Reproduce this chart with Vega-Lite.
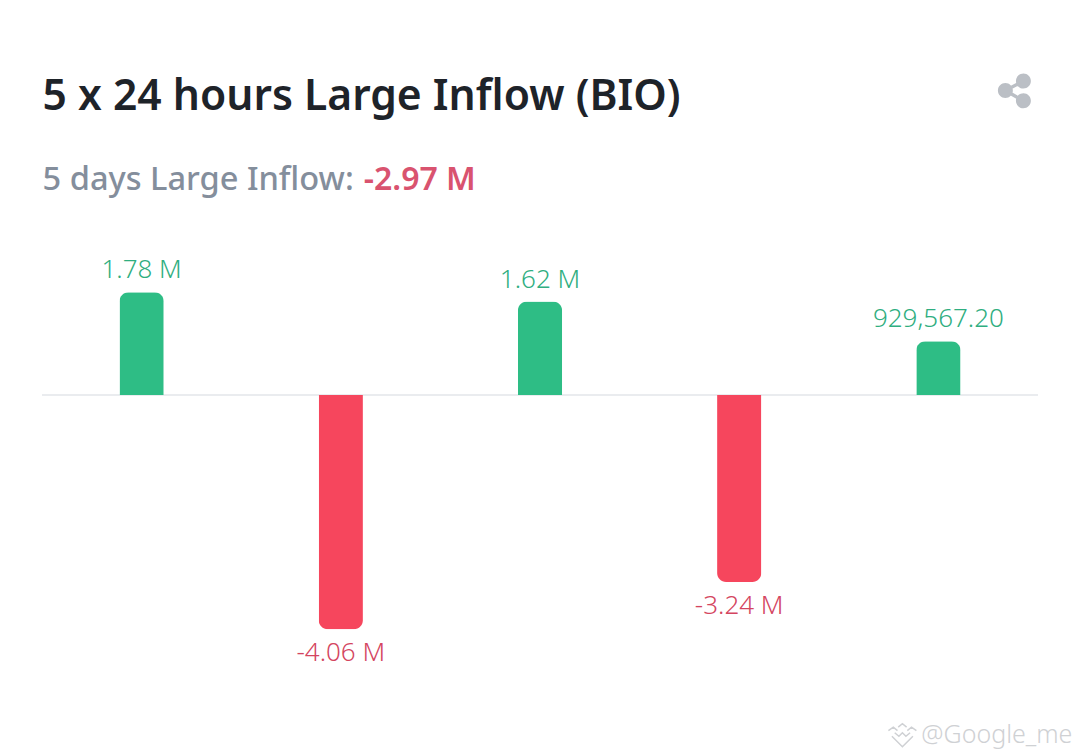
{
  "$schema": "https://vega.github.io/schema/vega-lite/v6.json",
  "width": 996,
  "height": 756,
  "autosize": "none",
  "padding": {"left": 42, "top": 0, "right": 42, "bottom": 0},
  "background": "#ffffff",
  "view": {"stroke": null},
  "datasets": {
    "days": [
      {"day": "Day 1", "inflow": 1.78, "label": "1.78 M"},
      {"day": "Day 2", "inflow": -4.06, "label": "-4.06 M"},
      {"day": "Day 3", "inflow": 1.62, "label": "1.62 M"},
      {"day": "Day 4", "inflow": -3.24, "label": "-3.24 M"},
      {"day": "Day 5", "inflow": 0.9295672, "label": "929,567.20"}
    ],
    "heading": [{"day": "Day 1", "level": 5.17, "label": "5 x 24 hours Large Inflow (BIO)"}],
    "summary": [{"day": "Day 1", "level": 3.73, "label": "5 days Large Inflow:"}],
    "total": [{"day": "Day 2", "level": 3.73, "label": "-2.97 M"}],
    "share": [{"day": "Day 5", "level": 5.27}],
    "credit": [{"day": "Day 5", "level": -5.89, "label": "@Google_me"}]
  },
  "data": {"name": "days"},
  "encoding": {
    "x": {
      "field": "day",
      "type": "nominal",
      "axis": null,
      "scale": {"domain": ["Day 1", "Day 2", "Day 3", "Day 4", "Day 5"], "paddingInner": 0.778, "paddingOuter": 0.389}
    },
    "y": {
      "field": "inflow",
      "type": "quantitative",
      "axis": null,
      "scale": {"domain": [-6.257, 6.846], "nice": false, "zero": false}
    }
  },
  "layer": [
    {
      "mark": {"type": "rule", "color": "#eaecef", "strokeWidth": 2},
      "encoding": {"x": {}, "y": {"datum": 0}}
    },
    {
      "transform": [{"filter": "datum.inflow > 0"}],
      "mark": {"type": "bar", "color": "#2ebd85", "cornerRadiusTopLeft": 9, "cornerRadiusTopRight": 9}
    },
    {
      "transform": [{"filter": "datum.inflow < 0"}],
      "mark": {"type": "bar", "color": "#f6465d", "cornerRadiusBottomLeft": 9, "cornerRadiusBottomRight": 9}
    },
    {
      "transform": [{"filter": "datum.inflow > 0"}],
      "mark": {"type": "text", "font": "Noto Sans", "fontSize": 26, "fontWeight": 300, "color": "#2fae80", "dy": -22},
      "encoding": {"text": {"field": "label"}}
    },
    {
      "transform": [{"filter": "datum.inflow < 0"}],
      "mark": {"type": "text", "font": "Noto Sans", "fontSize": 26, "fontWeight": 300, "color": "#d4455f", "dy": 24},
      "encoding": {"text": {"field": "label"}}
    },
    {
      "data": {"name": "heading"},
      "mark": {"type": "text", "font": "Noto Sans", "fontSize": 42.6, "fontWeight": 600, "color": "#1e2329", "align": "left", "dx": -99},
      "encoding": {
        "y": {"field": "level", "type": "quantitative"},
        "text": {"field": "label"}
      }
    },
    {
      "data": {"name": "summary"},
      "mark": {"type": "text", "font": "Noto Sans", "fontSize": 32.6, "fontWeight": 500, "color": "#848e9c", "align": "left", "dx": -99},
      "encoding": {
        "y": {"field": "level", "type": "quantitative"},
        "text": {"field": "label"}
      }
    },
    {
      "data": {"name": "total"},
      "mark": {"type": "text", "font": "Noto Sans", "fontSize": 32, "fontWeight": 600, "color": "#d9536f", "align": "left", "dx": 23},
      "encoding": {
        "y": {"field": "level", "type": "quantitative"},
        "text": {"field": "label"}
      }
    },
    {
      "data": {"name": "share"},
      "mark": {
        "type": "point",
        "filled": true,
        "size": 1156,
        "color": "#bbbfc5",
        "opacity": 1,
        "xOffset": 76.5,
        "shape": "M0.06 -0.58a0.44 0.44 0 1 1 0.88 0a0.44 0.44 0 1 1 -0.88 0ZM-1 -0.02a0.44 0.44 0 1 1 0.88 0a0.44 0.44 0 1 1 -0.88 0ZM0.06 0.58a0.44 0.44 0 1 1 0.88 0a0.44 0.44 0 1 1 -0.88 0ZM0.547 -0.492L-0.513 0.068L-0.607 -0.108L0.453 -0.668ZM-0.511 -0.107L0.549 0.493L0.451 0.667L-0.609 0.067Z"
      },
      "encoding": {
        "y": {"field": "level", "type": "quantitative"}
      }
    },
    {
      "data": {"name": "credit"},
      "mark": {"type": "text", "font": "Noto Sans", "fontSize": 25, "fontWeight": 300, "color": "#cfd1d4", "align": "right", "dx": 134},
      "encoding": {
        "y": {"field": "level", "type": "quantitative"},
        "text": {"field": "label"}
      }
    },
    {
      "data": {"name": "credit"},
      "mark": {
        "type": "point",
        "filled": false,
        "size": 784,
        "strokeWidth": 1.5,
        "color": "#cfd1d4",
        "opacity": 1,
        "xOffset": -36,
        "shape": "M-1 -0.3L-0.65 -0.55L-0.35 -0.3M-0.55 -0.15L-0.25 0.1L0 -0.15L0.25 0.1L0.55 -0.15M0.35 -0.3L0.65 -0.55L1 -0.3M-0.3 -0.55L0 -0.8L0.3 -0.55M-0.75 0.1L0 0.85L0.75 0.1"
      },
      "encoding": {
        "y": {"field": "level", "type": "quantitative"}
      }
    }
  ]
}
